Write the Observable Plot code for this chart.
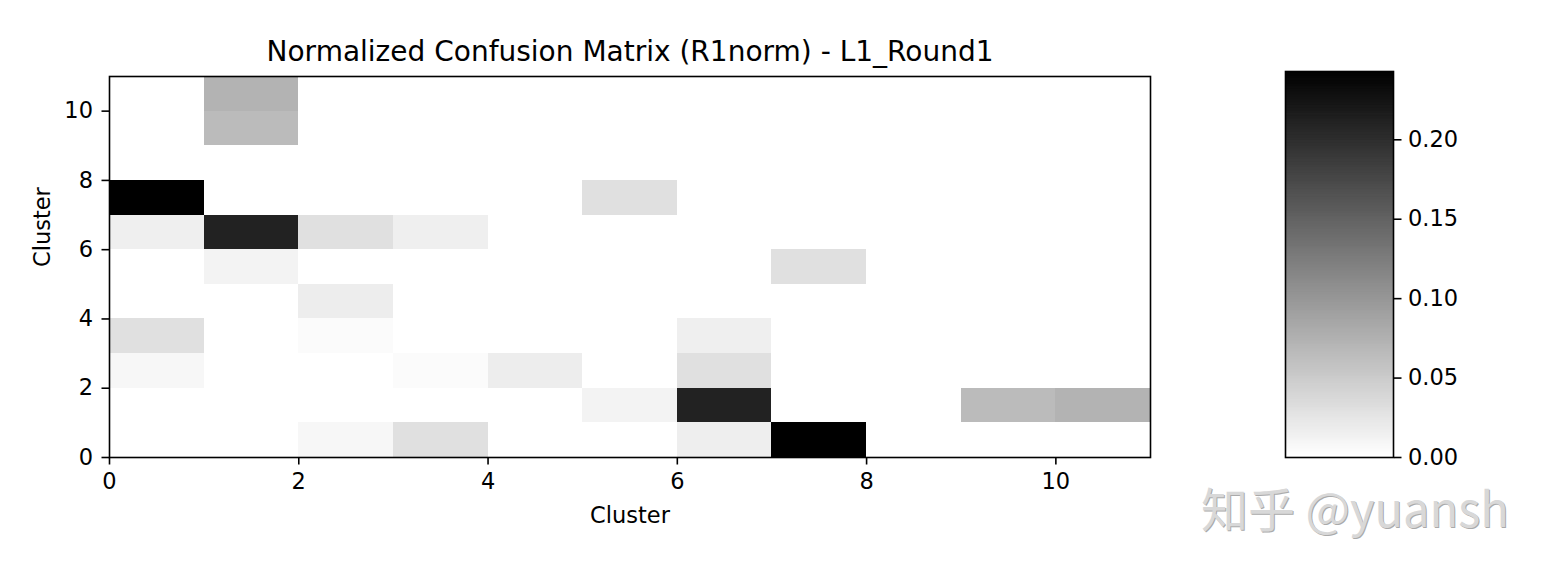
<!DOCTYPE html>
<html>
<head>
<meta charset="utf-8">
<script src="https://cdn.jsdelivr.net/npm/d3@7"></script>
<script src="https://cdn.jsdelivr.net/npm/@observablehq/plot@0.6"></script>
<style>
  html, body { margin: 0; padding: 0; background: #ffffff; }
  #wrap { position: relative; width: 1547px; height: 574px; overflow: hidden; background: #ffffff; }
  #wrap svg { position: absolute; top: 0; }
  #wm { position: absolute; left: 1201px; top: 472px; font-family: "Noto Sans CJK SC", "Noto Sans", sans-serif;
        font-size: 47px; color: #d8d8d8; text-shadow: 1px 1px 0 #aaaaaa; white-space: nowrap; }
</style>
</head>
<body>
<div id="wrap"></div>
<script>
const clusters = [0, 1, 2, 3, 4, 5, 6, 7, 8, 9, 10];
const axisTicks = [0, 2, 4, 6, 8, 10];
const colorbarTicks = [0, 0.05, 0.10, 0.15, 0.20];
const vmax = 0.243;
// matrix rows: index = y cluster (row), entries = x cluster (column)
const row0  = [0, 0, 0.0076, 0.0295, 0, 0, 0.016, 0.243, 0, 0, 0];
const row1  = [0, 0, 0, 0, 0, 0.0114, 0.2106, 0, 0, 0.0648, 0.0724];
const row2  = [0.0076, 0, 0, 0.0038, 0.0172, 0, 0.0295, 0, 0, 0, 0];
const row3  = [0.0295, 0, 0.0038, 0, 0, 0, 0.0152, 0, 0, 0, 0];
const row4  = [0, 0, 0.0172, 0, 0, 0, 0, 0, 0, 0, 0];
const row5  = [0, 0.0114, 0, 0, 0, 0, 0, 0.0295, 0, 0, 0];
const row6  = [0.0152, 0.2106, 0.0295, 0.0152, 0, 0, 0, 0, 0, 0, 0];
const row7  = [0.243, 0, 0, 0, 0, 0.0295, 0, 0, 0, 0, 0];
const row8  = [0, 0, 0, 0, 0, 0, 0, 0, 0, 0, 0];
const row9  = [0, 0.0648, 0, 0, 0, 0, 0, 0, 0, 0, 0];
const row10 = [0, 0.0724, 0, 0, 0, 0, 0, 0, 0, 0, 0];
const rows = [row0, row1, row2, row3, row4, row5, row6, row7, row8, row9, row10];

const cells = [];
rows.forEach((r, yi) => r.forEach((v, xi) => cells.push({x: clusters[xi], y: clusters[yi], v})));

const font = "DejaVu Sans";
const color = {type: "linear", domain: [0, vmax], range: ["#ffffff", "#000000"], clamp: true};

const main = Plot.plot({
  width: 1547, height: 574,
  marginLeft: 109, marginRight: 397, marginTop: 76, marginBottom: 117,
  style: {fontFamily: font, fontSize: "22.5px", background: "transparent", color: "black"},
  x: {domain: [0, 11]},
  y: {domain: [0, 11]},
  color,
  marks: [
    Plot.rect(cells, {x1: "x", x2: d => d.x + 1, y1: "y", y2: d => d.y + 1, fill: "v", inset: 0, shapeRendering: "crispEdges"}),
    Plot.frame({stroke: "black", strokeWidth: 1.6}),
    Plot.axisX({ticks: axisTicks, tickSize: 7.5, tickPadding: 8, strokeWidth: 1.6, label: null, tickFormat: d => String(d)}),
    Plot.axisY({ticks: axisTicks, tickSize: 7.5, tickPadding: 9, strokeWidth: 1.6, label: null, tickFormat: d => String(d)}),
    Plot.text(["Cluster"], {frameAnchor: "bottom", lineAnchor: "middle", dy: 58, text: d => d, fontSize: 22.5}),
    Plot.text(["Cluster"], {frameAnchor: "left", lineAnchor: "middle", dx: -67, rotate: -90, text: d => d, fontSize: 22.5}),
    Plot.text(["Normalized Confusion Matrix (R1norm) - L1_Round1"], {frameAnchor: "top", lineAnchor: "middle", dy: -24, text: d => d, fontSize: 28})
  ]
});
main.style.left = "0px";

const rampStep = 0.001;
const ramp = d3.range(0, vmax, rampStep);
const cbar = Plot.plot({
  width: 300, height: 574,
  marginLeft: 55, marginRight: 137, marginTop: 71, marginBottom: 117,
  style: {fontFamily: font, fontSize: "22.5px", background: "transparent", color: "black"},
  x: {domain: [0, 1], axis: null},
  y: {domain: [0, vmax]},
  color,
  marks: [
    Plot.rect(ramp, {x1: 0, x2: 1, y1: d => d, y2: d => Math.min(vmax, d + rampStep * 1.5), fill: d => d, inset: 0}),
    Plot.frame({stroke: "black", strokeWidth: 1.6}),
    Plot.axisY({anchor: "right", ticks: colorbarTicks, tickSize: 7.5, tickPadding: 7, strokeWidth: 1.6, label: null, tickFormat: d3.format(".2f")})
  ]
});
cbar.style.left = "1230px";

const wrap = document.getElementById("wrap");
wrap.appendChild(main);
wrap.appendChild(cbar);
const wm = document.createElement("div");
wm.id = "wm";
wm.textContent = "知乎 @yuansh";
wrap.appendChild(wm);
</script>
</body>
</html>
